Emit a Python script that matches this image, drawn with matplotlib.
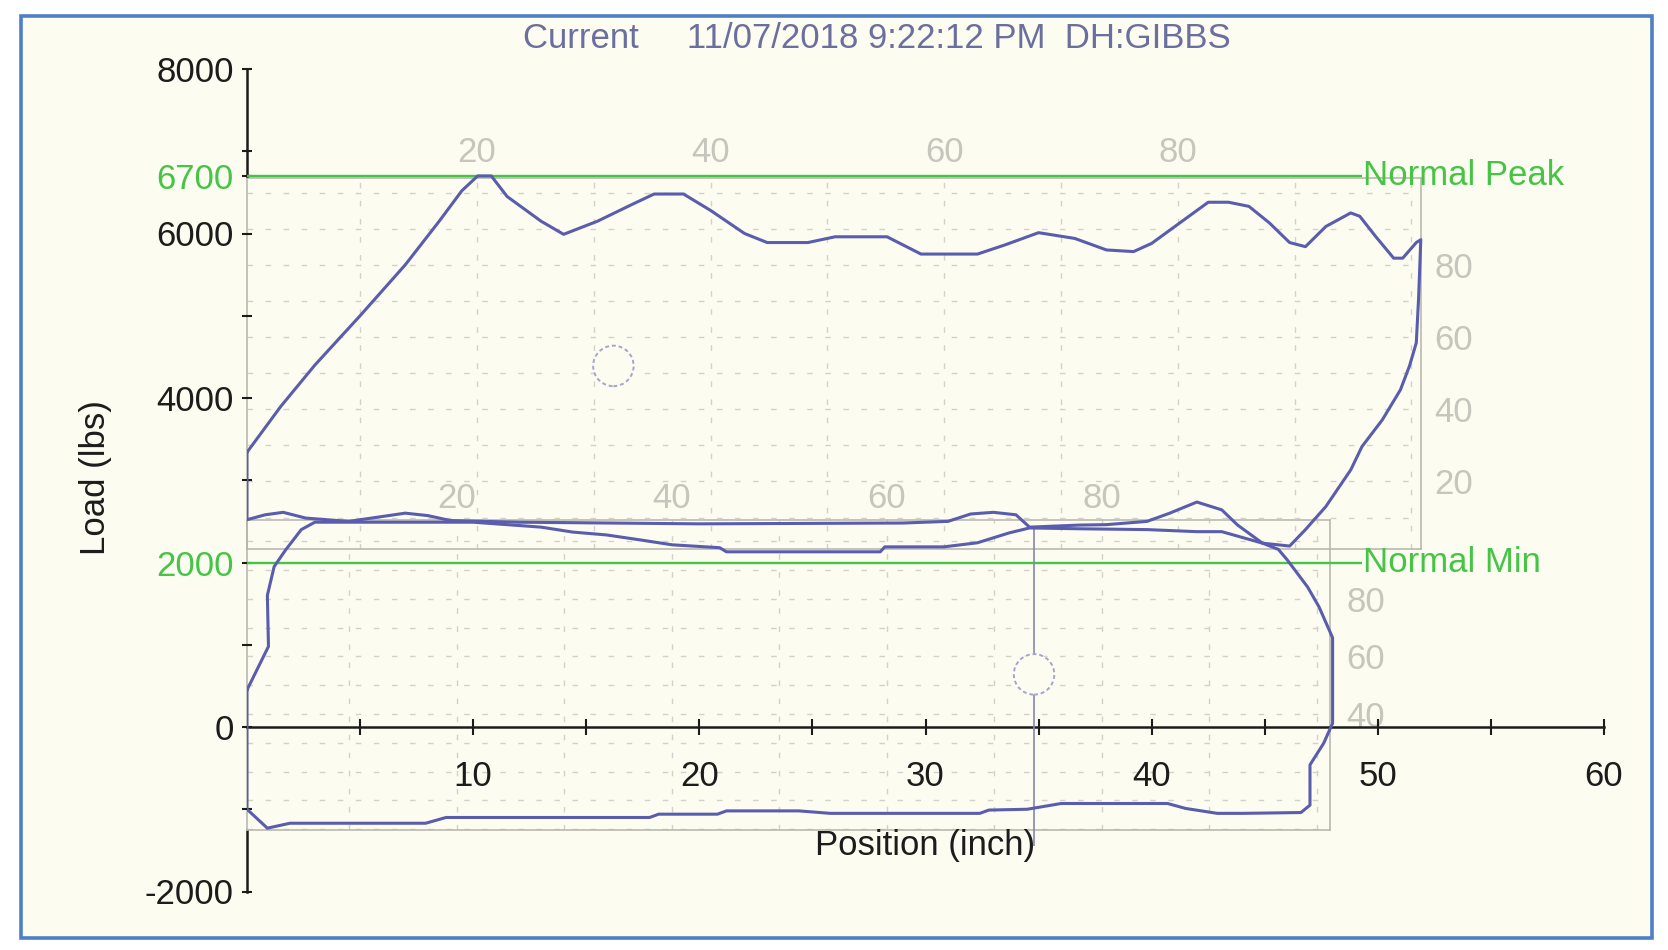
import matplotlib
matplotlib.use("Agg")
import matplotlib.pyplot as plt
from matplotlib import font_manager
from matplotlib.patches import Rectangle
from matplotlib.ticker import FixedLocator, MultipleLocator

# surface card (inch / lbs)
surf_pos = [0, 1.5, 3, 5, 7, 8.5, 9.5, 10.2, 10.8, 11.5,
            13.0, 14.0, 15.5, 17.0, 18.0, 19.3, 20.5, 22.0, 23.0, 24.8,
            26.0, 28.3, 29.8, 32.3, 33.5, 35.0, 36.6, 38.0, 39.2, 40.0,
            41.0, 42.5, 43.4, 44.3, 45.2, 46.1, 46.8, 47.7, 48.8, 49.2,
            49.9, 50.7, 51.1, 51.7, 51.9, 51.8, 51.7, 51.4, 51.0, 50.2,
            49.3, 48.8, 47.7, 46.8, 46.1, 44.9, 43.8, 43.1, 42.0, 40.8,
            39.8, 38.0, 36.8, 34.6, 34.0, 33.0, 32.0, 31.0, 29.0, 20.0,
            12.0, 9.0, 8.0, 7.0, 6.0, 4.5, 2.6, 1.6, 0.8, 0, 0]
surf_load = [3340, 3900, 4400, 5000, 5620, 6150, 6520, 6700, 6700, 6450,
             6150, 5990, 6150, 6350, 6480, 6480, 6280, 6000, 5890, 5890,
             5960, 5960, 5750, 5750, 5860, 6010, 5940, 5800, 5780, 5880,
             6080, 6380, 6380, 6330, 6130, 5890, 5840, 6085, 6250, 6210,
             5965, 5700, 5700, 5890, 5925, 5200, 4670, 4390, 4100, 3735,
             3410, 3125, 2680, 2400, 2200, 2235, 2455, 2640, 2735, 2600,
             2500, 2460, 2455, 2430, 2580, 2610, 2590, 2500, 2480, 2470,
             2490, 2510, 2570, 2600, 2560, 2500, 2540, 2610, 2580, 2520, 3340]

# downhole (pump) card
pump_pos = [0, 0.95, 0.9, 1.2, 1.7, 2.4, 3.0,
            10.0, 13.0, 14.4, 15.9, 17.5, 18.8, 20.9, 21.2,
            28.0, 28.2, 30.8, 32.3, 33.7, 34.6,
            36.8, 39.8, 42.0, 43.1, 44.9, 45.6, 46.0,
            46.9, 47.4, 48.0, 48.0, 47.6, 47.0, 47.0,
            46.6, 44.0, 42.9, 41.5, 40.7, 36.0, 34.5,
            32.8, 32.4, 25.8, 24.4, 21.2, 20.8, 18.2,
            17.8, 8.8, 7.9, 1.9, 0.9, 0, 0]
pump_load = [450, 980, 1600, 1950, 2150, 2400, 2490,
             2490, 2430, 2370, 2335, 2270, 2215, 2180, 2130,
             2130, 2190, 2190, 2240, 2360, 2420,
             2410, 2400, 2375, 2375, 2235, 2160, 2030,
             1700, 1460, 1085, 45, -200, -460, -950,
             -1040, -1050, -1050, -990, -930, -930, -1000,
             -1010, -1050, -1050, -1020, -1020, -1060, -1060,
             -1100, -1100, -1170, -1170, -1230, -1000, 450]

cursor_pos = [16.2, 34.8]
cursor_load = [4390, 640]
limit_names = ["Normal Peak", "Normal Min"]
limit_loads = [6700, 2000]
load_ticks = [-2000, 0, 2000, 4000, 6000, 6700, 8000]
load_minor = [-1000, 1000, 3000, 5000, 7000]
pos_ticks = [10, 20, 30, 40, 50, 60]
pct_ticks = [20, 40, 60, 80]
pct_ticks_lo_right = [40, 60, 80]
title = "Current     11/07/2018 9:22:12 PM  DH:GIBBS"

BG = "#fcfcf0"
CARD = "#5a5cae"
GREEN = "#46c446"
FAINT = "#c6c6be"
INK = "#1c1c1c"

plt.rcParams["axes.unicode_minus"] = False
names = {f.name for f in font_manager.fontManager.ttflist}
if "Liberation Sans Narrow" in names:
    plt.rcParams["font.family"] = ["Liberation Sans Narrow", "DejaVu Sans"]
    fs = 29
else:
    plt.rcParams["font.family"] = ["Liberation Sans", "DejaVu Sans"]
    fs = 25

W, H = 1668, 950
fig = plt.figure(figsize=(W / 100, H / 100), dpi=100, facecolor="white")
fig.patches.append(Rectangle((21 / W, 1 - 938 / H), 1631 / W, 922 / H,
                             transform=fig.transFigure, facecolor=BG,
                             edgecolor="#4f7fc4", lw=2.6, zorder=-5))

rect = [247 / W, 1 - 891.5 / H, (1604 - 247) / W, (891.5 - 69) / H]

# lower piece of the black load axis (below the card boxes)
ax_sp = fig.add_axes(rect, zorder=1)
ax_sp.set_xlim(0, 60)
ax_sp.set_ylim(-2000, 8000)
ax_sp.patch.set_visible(False)
for s in ("top", "right", "bottom"):
    ax_sp.spines[s].set_visible(False)
ax_sp.spines["left"].set_bounds(-2000, -1253)
ax_sp.spines["left"].set_color(INK)
ax_sp.spines["left"].set_linewidth(1.8)
ax_sp.set_xticks([])
ax_sp.set_yticks([])

ax = fig.add_axes(rect, zorder=2)
ax.set_xlim(0, 60)
ax.set_ylim(-2000, 8000)
ax.patch.set_visible(False)

# percent overlay boxes for the two cards
up = ax.inset_axes([0, 2170, 51.9, 6680 - 2170], transform=ax.transData, zorder=0.5)
up.set_xlim(0.3, 100.8)
up.set_ylim(1.4, 104.3)
lo = ax.inset_axes([0, -1253, 47.88, 2518 + 1253], transform=ax.transData, zorder=0.4)
lo.set_xlim(0.47, 101.2)
lo.set_ylim(-0.35, 107.5)
for b, tpad, rpad, yt in ((up, 6, 10, pct_ticks), (lo, 3.5, 12, pct_ticks_lo_right)):
    b.patch.set_visible(False)
    for s in b.spines.values():
        s.set_color("#b4b4ac")
        s.set_linewidth(1.1)
    b.xaxis.set_major_locator(FixedLocator(pct_ticks))
    b.yaxis.set_major_locator(FixedLocator(yt))
    b.xaxis.set_minor_locator(MultipleLocator(10))
    b.yaxis.set_minor_locator(MultipleLocator(10))
    b.grid(which="both", color="#d2d2ca", lw=1.0, linestyle=(0, (4, 9)))
    b.tick_params(which="both", length=0, bottom=False, labelbottom=False,
                  left=False, labelleft=False, top=True, labeltop=True,
                  right=True, labelright=True, labelsize=fs, labelcolor=FAINT)
    b.tick_params(axis="x", pad=tpad)
    b.tick_params(axis="y", pad=rpad)

# main load / position axes
ax.spines[["top", "right"]].set_visible(False)
ax.spines["bottom"].set_position(("data", 0))
ax.spines["left"].set_bounds(6700, 8000)
for s in ("left", "bottom"):
    ax.spines[s].set_color(INK)
    ax.spines[s].set_linewidth(1.8)
ax.set_xticks(pos_ticks)
ax.xaxis.set_minor_locator(FixedLocator([p - 5 for p in pos_ticks]))
ax.set_yticks(load_ticks)
ax.yaxis.set_minor_locator(FixedLocator(load_minor))
ax.tick_params(axis="x", which="both", direction="inout", length=11, width=1.5,
               pad=18, labelsize=fs, colors=INK)
ax.tick_params(axis="y", which="both", direction="inout", length=7, width=1.5,
               pad=6, labelsize=fs, colors=INK)
for lab, v in zip(ax.get_yticklabels(), load_ticks):
    if v in limit_loads:
        lab.set_color(GREEN)

ax.hlines(limit_loads, 0, 49.3, color=GREEN, lw=1.7, zorder=2.6)
for name, v in zip(limit_names, limit_loads):
    ax.text(49.35, v, name, color=GREEN, fontsize=fs, ha="left", va="center")

ax.plot(surf_pos, surf_load, color=CARD, lw=2.2, zorder=3)
ax.plot(pump_pos, pump_load, color=CARD, lw=2.2, zorder=3)

ax.vlines(cursor_pos[1], -1450, 2420, color="#8386b4", lw=1.2, zorder=2.8)
ax.scatter(cursor_pos, cursor_load, s=850, facecolor=BG, edgecolor="#a3a5cc",
           linewidths=1.4, linestyle=(0, (2, 1.5)), zorder=4)

ax.set_xlabel("Position (inch)", fontsize=fs, color=INK)
ax.xaxis.set_label_coords(0.5, (891.5 - 846) / 822.5)
ax.xaxis.label.set_va("center")

fig.text(96 / W, 1 - 478 / H, "Load (lbs)", rotation=90, ha="center", va="center",
         fontsize=fs, color=INK)
fig.text(877 / W, 1 - 39 / H, title, ha="center", va="center", fontsize=fs,
         color="#6b6f9f")

fig.savefig("out.png", dpi=100, facecolor=fig.get_facecolor())
